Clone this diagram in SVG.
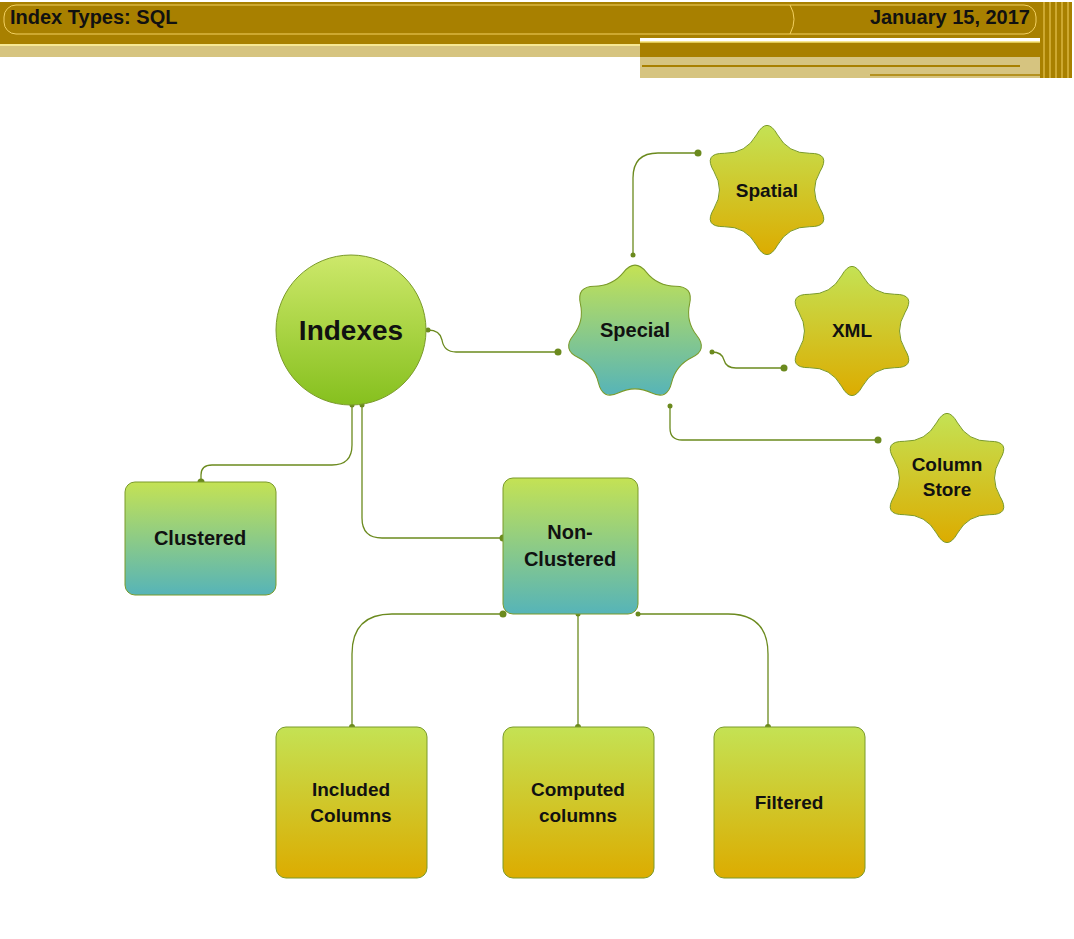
<svg xmlns="http://www.w3.org/2000/svg" width="1074" height="939" viewBox="0 0 1074 939">
<style>
.t{font-family:"Liberation Sans",Arial,sans-serif;font-weight:bold;fill:#111;text-anchor:middle}
.c{fill:none;stroke:#6b8a1e;stroke-width:1.3}
.d{fill:#6b8a1e}
.sh{stroke:#7a9a2a;stroke-width:1}
</style>
<defs>
<linearGradient id="gy" x1="0" y1="0" x2="0" y2="1"><stop offset="0" stop-color="#c4e254"/><stop offset="1" stop-color="#dcac00"/></linearGradient>
<linearGradient id="gt" x1="0" y1="0" x2="0" y2="1"><stop offset="0" stop-color="#c4e254"/><stop offset="1" stop-color="#56b4b8"/></linearGradient>
<linearGradient id="gc" x1="0" y1="0" x2="0" y2="1"><stop offset="0" stop-color="#cde86a"/><stop offset="1" stop-color="#86c01e"/></linearGradient>
<path id="s6" d="M-10.5,-55.2 Q0,-74 10.5,-55.2 Q21,-36.4 42.55,-36.7 Q64.1,-37 53.05,-18.5 Q42,0 53.05,18.5 Q64.1,37 42.55,36.7 Q21,36.4 10.5,55.2 Q0,74 -10.5,55.2 Q-21,36.4 -42.55,36.7 Q-64.1,37 -53.05,18.5 Q-42,0 -53.05,-18.5 Q-64.1,-37 -42.55,-36.7 Q-21,-36.4 -10.5,-55.2 Z"/>
</defs>
<g id="header">
<rect x="0" y="2" width="1040" height="36" fill="#a88000"/>
<rect x="4" y="5" width="1032" height="29" rx="12" fill="none" stroke="#f2d060" stroke-width="1"/>
<line x1="797" y1="5" x2="797" y2="34" stroke="#f2d060" stroke-width="0"/>
<path d="M790,5 Q798,19 790,34" fill="none" stroke="#f2d060"/>
<rect x="0" y="38" width="640" height="6" fill="#a88000"/>
<line x1="0" y1="45" x2="640" y2="45" stroke="#f5e070" stroke-width="1.5"/>
<rect x="0" y="46" width="640" height="11" fill="#d6c480"/>
<rect x="640" y="42" width="400" height="15" fill="#a88000"/>
<line x1="640" y1="42" x2="1040" y2="42" stroke="#f5e070" stroke-width="1.5"/>
<rect x="640" y="57" width="400" height="21" fill="#d6c480"/>
<line x1="642" y1="66" x2="1020" y2="66" stroke="#a88000" stroke-width="2"/>
<line x1="870" y1="75" x2="1040" y2="75" stroke="#a88000" stroke-width="1.5"/>
<rect x="1040" y="2" width="32" height="76" fill="#a88000"/>
<g stroke="#f2d060" stroke-width="1"><line x1="1044" y1="2" x2="1044" y2="78"/><line x1="1050" y1="2" x2="1050" y2="78"/><line x1="1056" y1="2" x2="1056" y2="78"/><line x1="1062" y1="2" x2="1062" y2="78"/><line x1="1068" y1="2" x2="1068" y2="78"/></g>
<text x="10" y="24" font-family="Liberation Sans Narrow,Liberation Sans,Arial,sans-serif" font-weight="bold" font-size="20" fill="#111">Index Types: SQL</text>
<text x="1030" y="24" font-family="Liberation Sans Narrow,Liberation Sans,Arial,sans-serif" font-weight="bold" font-size="20" fill="#111" text-anchor="end">January 15, 2017</text>
</g>
<g id="connectors">
<path class="c" d="M428,330 Q440,330 442,340 Q444,352 456,352 L558,352"/>
<path class="c" d="M352,405 L352,445 Q352,465 332,465 L212,465 Q201,465 201,475 L201,482"/>
<path class="c" d="M362,405 L362,518 Q362,538 382,538 L503,538"/>
<path class="c" d="M633,255 L633,178 Q633,153 658,153 L698,153"/>
<path class="c" d="M712,352 Q722,352 724,360 Q726,368 736,368 L784,368"/>
<path class="c" d="M670,406 L670,428 Q670,440 682,440 L878,440"/>
<path class="c" d="M503,614 L392,614 Q352,614 352,654 L352,727"/>
<path class="c" d="M578,614 L578,727"/>
<path class="c" d="M638,614 L728,614 Q768,614 768,654 L768,727"/>
<g class="d">
<circle cx="428" cy="330" r="2.5"/><circle cx="558" cy="352" r="3.5"/>
<circle cx="352" cy="405" r="2.5"/><circle cx="201" cy="482" r="3.5"/>
<circle cx="362" cy="405" r="2.5"/><circle cx="503" cy="538" r="3.5"/>
<circle cx="633" cy="255" r="2.5"/><circle cx="698" cy="153" r="3.5"/>
<circle cx="712" cy="352" r="2.5"/><circle cx="784" cy="368" r="3.5"/>
<circle cx="670" cy="406" r="2.5"/><circle cx="878" cy="440" r="3.5"/>
<circle cx="503" cy="614" r="3.5"/><circle cx="352" cy="727" r="3"/>
<circle cx="578" cy="614" r="2.5"/><circle cx="578" cy="727" r="3"/>
<circle cx="638" cy="614" r="2.5"/><circle cx="768" cy="727" r="3"/>
</g>
</g>
<g id="indexes"><circle cx="351" cy="330" r="75" fill="url(#gc)" class="sh"/><text class="t" x="351" y="340" font-size="28">Indexes</text></g>
<g id="special"><path transform="translate(635,333) scale(1.04)" class="sh" fill="url(#gt)" d="M-10.85,-58.55 Q0,-72 10.85,-58.55 Q21.7,-45.1 39,-45 Q56.3,-44.9 52.5,-28 Q48.7,-11.1 59.45,2.45 Q70.2,16 54.65,23.6 Q39.1,31.2 35.15,48.05 Q31.2,64.9 15.6,57.45 Q0,50 -15.6,57.45 Q-31.2,64.9 -35.15,48.05 Q-39.1,31.2 -54.65,23.6 Q-70.2,16 -59.45,2.45 Q-48.7,-11.1 -52.5,-28 Q-56.3,-44.9 -39,-45 Q-21.7,-45.1 -10.85,-58.55 Z"/><text class="t" x="635" y="337" font-size="20">Special</text></g>
<g id="spatial"><use href="#s6" x="767" y="190" fill="url(#gy)" class="sh"/><text class="t" x="767" y="197" font-size="19">Spatial</text></g>
<g id="xml"><use href="#s6" x="852" y="331" fill="url(#gy)" class="sh"/><text class="t" x="852" y="337" font-size="19">XML</text></g>
<g id="columnstore"><use href="#s6" x="947" y="478" fill="url(#gy)" class="sh"/><text class="t" x="947" y="471" font-size="19">Column</text><text class="t" x="947" y="496" font-size="19">Store</text></g>
<g id="clustered"><rect x="125" y="482" width="151" height="113" rx="10" fill="url(#gt)" class="sh"/><text class="t" x="200" y="545" font-size="20">Clustered</text></g>
<g id="nonclustered"><rect x="503" y="478" width="135" height="136" rx="10" fill="url(#gt)" class="sh"/><text class="t" x="570" y="539" font-size="20">Non-</text><text class="t" x="570" y="566" font-size="20">Clustered</text></g>
<g id="included"><rect x="276" y="727" width="151" height="151" rx="10" fill="url(#gy)" class="sh"/><text class="t" x="351" y="796" font-size="19">Included</text><text class="t" x="351" y="822" font-size="19">Columns</text></g>
<g id="computed"><rect x="503" y="727" width="151" height="151" rx="10" fill="url(#gy)" class="sh"/><text class="t" x="578" y="796" font-size="19">Computed</text><text class="t" x="578" y="822" font-size="19">columns</text></g>
<g id="filtered"><rect x="714" y="727" width="151" height="151" rx="10" fill="url(#gy)" class="sh"/><text class="t" x="789" y="809" font-size="19">Filtered</text></g>
</svg>
